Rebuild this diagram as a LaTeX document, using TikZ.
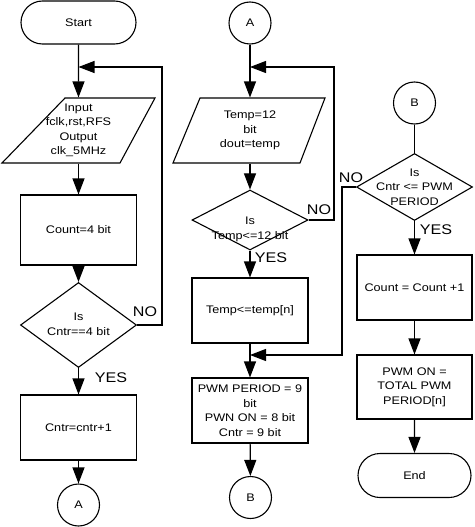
\documentclass[tikz,border=0pt]{standalone}
\usepackage{fontspec}
\setmainfont{Liberation Sans}[FakeStretch=1.15]
\usetikzlibrary{shapes.geometric,shapes.misc,arrows.meta}
\begin{document}
\begin{tikzpicture}[x=1pt,y=-1pt,line width=1.1pt,
 font=\fontsize{11}{14.5}\selectfont,
 term/.style={draw,rounded rectangle,minimum width=117pt,minimum height=43pt,inner sep=1pt},
 blk/.style={draw,rectangle,minimum width=116pt,minimum height=65pt,align=center,inner sep=1pt},
 io/.style={rectangle,minimum width=80pt,minimum height=65pt,align=center,inner sep=0pt},
 dec/.style={draw,diamond,minimum width=116pt,inner sep=0pt},
 con/.style={draw,circle,minimum size=42pt,inner sep=0pt},
 arr/.style={-{Triangle[length=16pt,width=12pt]}},
 lab/.style={font=\fontsize{14}{14}\selectfont,inner sep=0pt},
 ]
\useasboundingbox (0,0) rectangle (474,527);

%Spalte 1
\node[term] (start) at (78.5,22.5) {Start};
\node[io] (in1) at (78.5,130.5) {Input\\fclk,rst,RFS\\Output\\clk\_5MHz};
\draw[shift={(in1.center)}] (-76.5,32.5) -- (-13.5,-32.5) -- (76.5,-32.5) -- (41.5,32.5) -- cycle;
\node[blk,minimum height=70pt] (cnt1) at (78.5,230) {Count=4 bit};
\node[dec,minimum height=85pt] (d1) at (78.5,325) {};
\node[align=center,inner sep=0pt] (d1t) at (78.5,324.5) {Is\\Cntr==4 bit};
\node[blk] (inc1) at (78.5,427.5) {Cntr=cntr+1};
\node[con] (A1) at (78.5,505) {A};
\coordinate (j1) at (78.5,67);
\coordinate (lp1) at (162,67);

%Spalte 2
\node[con] (A2) at (250,23) {A};
\node[io] (in2) at (250,130.5) {Temp=12\\bit\\dout=temp};
\draw[shift={(in2.center)}] (-77,32.5) -- (-50,-32.5) -- (75,-32.5) -- (50,32.5) -- cycle;
\node[dec,minimum height=60pt] (d2) at (250,220) {};
\node[align=center,inner sep=0pt] (d2t) at (250,229.5) {Is\\Temp<=12 bit};
\node[blk] (tmp2) at (250,310.5) {Temp<=temp[n]};
\node[blk] (pwm2) at (250,410.5) {PWM PERIOD = 9\\bit\\PWN ON = 8 bit\\Cntr = 9 bit};
\node[con] (B2) at (250.5,497.5) {B};
\coordinate (j2) at (250,67);
\coordinate (lp2) at (334,67);

%Spalte 3
\node[con] (B3) at (414.5,103) {B};
\node[dec,minimum height=67pt] (d3) at (414.5,187) {};
\node[align=center,inner sep=0pt] (d3t) at (414.5,187) {Is\\Cntr <= PWM\\PERIOD};
\node[blk,minimum width=115pt] (cnt3) at (414.5,287.5) {Count = Count +1};
\node[blk,minimum width=115pt,minimum height=64pt] (on3) at (414.5,387) {PWM ON =\\TOTAL PWM\\PERIOD[n]};
\node[term,minimum width=115pt,minimum height=44pt] (end3) at (414.5,475.5) {End};
\coordinate (j3) at (250,355);
\coordinate (lp3) at (342,355);

%Beschriftung
\node[lab] (no1) at (145,312) {NO};
\node[lab] (no2) at (319,210) {NO};
\node[lab] (no3) at (351,178) {NO};
\node[lab] (yes1) at (111,378) {YES};
\node[lab] (yes2) at (271,258) {YES};
\node[lab] (yes3) at (436,230) {YES};

%Verbindungen
\draw[arr] (start) -- (in1);
\draw[arr] (in1) -- (cnt1);
\draw[arr] (cnt1) -- (d1);
\draw[arr] (d1) -- (inc1);
\draw[arr] (inc1) -- (A1);
\draw[arr] (d1.east) -| (lp1) -- (j1);

\draw[arr] (A2) -- (in2);
\draw[arr] (in2) -- (d2);
\draw[arr] (d2) -- (tmp2);
\draw[arr] (tmp2) -- (pwm2);
\draw[arr] (pwm2) -- (B2);
\draw[arr] (d2.east) -| (lp2) -- (j2);

\draw (B3) -- (d3);
\draw[arr] (d3) -- (cnt3);
\draw[arr] (cnt3) -- (on3);
\draw[arr] (on3) -- (end3);
\draw[arr] (d3.west) -| (lp3) -- (j3);
\end{tikzpicture}
\end{document}
